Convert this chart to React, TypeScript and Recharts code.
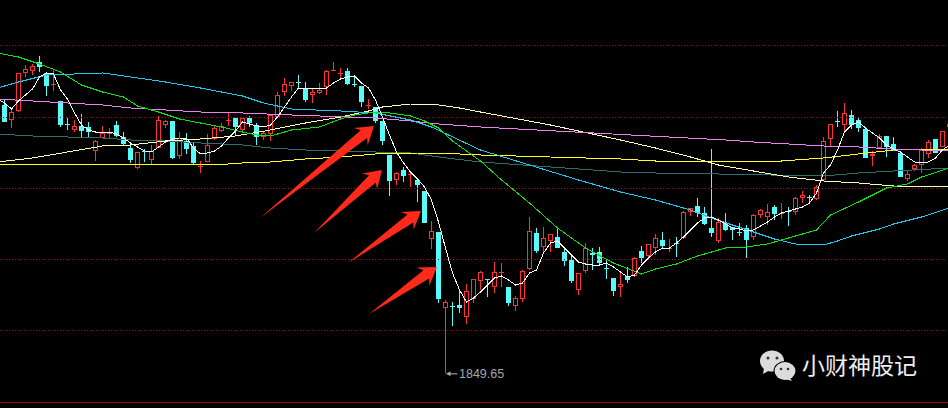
import React from 'react';
import { ComposedChart, Bar, Line, XAxis, YAxis, ReferenceLine, ReferenceDot } from 'recharts';

const opens = [
  2118, 2103, 2112, 2150, 2152, 2161, 2150, 2138, 2122, 2099,
  2093, 2097, 2096, 2072, 2085, 2089, 2098, 2086, 2075, 2055,
  2072, 2063, 2075, 2098, 2102, 2067, 2082, 2077, 2056, 2061,
  2084, 2092, 2102, 2105, 2093, 2105, 2098, 2086, 2089, 2106,
  2131, 2137, 2141, 2135, 2128, 2130, 2136, 2152, 2149, 2152,
  2139, 2137, 2117, 2116, 2102, 2068, 2043, 2053, 2048, 2043,
  2032, 1984, 1991, 1915, 1917, 1918, 1906, 1924, 1942, 1944,
  1936, 1950, 1936, 1917, 1924, 1954, 1990, 1976, 1982, 1986,
  1971, 1963, 1933, 1952, 1970, 1971, 1955, 1945, 1936, 1947,
  1947, 1972, 1967, 1975, 1983, 1974, 1980, 1985, 2011, 2017,
  2010, 1995, 1982, 2000, 1996, 1991, 1995, 1986, 2008, 2006,
  2016, 2009, 2012, 2011, 2025, 2026, 2024, 2043, 2084, 2102,
  2098, 2108, 2103, 2094, 2067, 2075, 2087, 2079, 2070, 2044,
  2054, 2058, 2069, 2084, 2076, 2096,
];
const closes = [
  2101, 2111, 2150, 2154, 2157, 2156, 2137, 2139, 2098, 2098,
  2097, 2092, 2091, 2082, 2090, 2090, 2087, 2079, 2063, 2071,
  2071, 2072, 2103, 2102, 2065, 2085, 2074, 2060, 2057, 2078,
  2095, 2097, 2103, 2096, 2105, 2100, 2086, 2090, 2108, 2128,
  2139, 2141, 2140, 2123, 2131, 2133, 2152, 2153, 2150, 2139,
  2138, 2121, 2118, 2102, 2082, 2042, 2050, 2047, 2049, 2038,
  2000, 1992, 1924, 1921, 1916, 1915, 1932, 1944, 1951, 1943,
  1951, 1951, 1920, 1925, 1952, 1992, 1972, 1985, 1989, 1975,
  1962, 1942, 1950, 1975, 1968, 1960, 1954, 1932, 1939, 1943,
  1965, 1965, 1979, 1985, 1977, 1975, 1979, 2011, 2015, 2010,
  1999, 1990, 2001, 1993, 1993, 1990, 1983, 2008, 2013, 2011,
  2009, 2010, 2011, 2025, 2028, 2025, 2036, 2082, 2099, 2101,
  2110, 2098, 2095, 2065, 2069, 2087, 2076, 2072, 2046, 2049,
  2058, 2073, 2081, 2070, 2092, 2099,
];
const highs = [
  2123, 2115, 2150, 2158, 2159, 2167, 2151, 2153, 2122, 2105,
  2103, 2109, 2101, 2083, 2097, 2095, 2102, 2091, 2078, 2071,
  2074, 2078, 2107, 2103, 2102, 2091, 2090, 2081, 2062, 2089,
  2098, 2100, 2110, 2105, 2105, 2107, 2100, 2091, 2108, 2131,
  2145, 2141, 2148, 2141, 2135, 2140, 2153, 2161, 2155, 2155,
  2146, 2137, 2124, 2116, 2102, 2068, 2051, 2056, 2050, 2043,
  2032, 2002, 1991, 1923, 1921, 1933, 1939, 1944, 1952, 1944,
  1961, 1960, 1936, 1927, 1953, 2006, 1995, 1996, 1989, 1995,
  1975, 1969, 1950, 1980, 1975, 1976, 1963, 1945, 1950, 1956,
  1966, 1977, 1979, 1989, 1991, 1984, 1986, 2012, 2015, 2025,
  2016, 2074, 2005, 2010, 1996, 2000, 1998, 2009, 2014, 2019,
  2018, 2020, 2016, 2026, 2032, 2028, 2038, 2086, 2099, 2112,
  2120, 2113, 2106, 2094, 2072, 2089, 2087, 2086, 2070, 2053,
  2059, 2075, 2083, 2084, 2092, 2099,
];
const lows = [
  2101, 2095, 2111, 2146, 2148, 2151, 2127, 2132, 2096, 2093,
  2091, 2086, 2086, 2062, 2085, 2084, 2086, 2077, 2060, 2054,
  2061, 2059, 2075, 2095, 2064, 2064, 2069, 2058, 2050, 2061,
  2083, 2091, 2097, 2088, 2090, 2096, 2078, 2083, 2082, 2106,
  2127, 2132, 2134, 2121, 2120, 2129, 2128, 2152, 2145, 2138,
  2136, 2116, 2114, 2100, 2078, 2027, 2038, 2041, 2036, 2021,
  2000, 1974, 1920, 1849.65, 1897, 1910, 1899, 1920, 1933, 1926,
  1930, 1936, 1917, 1912, 1921, 1953, 1970, 1971, 1971, 1975,
  1957, 1940, 1928, 1950, 1953, 1958, 1944, 1927, 1926, 1940,
  1946, 1960, 1963, 1968, 1974, 1971, 1966, 1984, 2007, 2006,
  1998, 1986, 1980, 1992, 1983, 1987, 1965, 1983, 2005, 1998,
  2003, 2004, 1997, 2008, 2020, 2019, 2023, 2043, 2076, 2096,
  2091, 2094, 2091, 2065, 2057, 2074, 2066, 2072, 2046, 2042,
  2052, 2050, 2065, 2070, 2076, 2096,
];
const ma5 = [
  2120, 2114, 2122, 2128, 2134, 2146, 2150, 2149, 2133, 2124,
  2110, 2098, 2093, 2091, 2091, 2091, 2089, 2085, 2080, 2076,
  2072, 2071, 2076, 2081, 2084, 2085, 2085, 2075, 2069, 2070,
  2072, 2077, 2085, 2092, 2101, 2099, 2097, 2096, 2098, 2106,
  2116, 2126, 2135, 2135, 2135, 2135, 2135, 2140, 2144, 2146,
  2147, 2140, 2135, 2123, 2106, 2088, 2071, 2060, 2051, 2044,
  2036, 2023, 2001, 1975, 1950, 1933, 1921, 1925, 1931, 1938,
  1945, 1947, 1943, 1938, 1940, 1950, 1953, 1970, 1980, 1982,
  1975, 1968, 1961, 1959, 1958, 1958, 1960, 1956, 1951, 1946,
  1948, 1958, 1965, 1971, 1975, 1975, 1980, 1986, 1993, 2000,
  2005, 2006, 2003, 1999, 1995, 1994, 1992, 1993, 1997, 2001,
  2006, 2010, 2012, 2014, 2016, 2020, 2030, 2050, 2058, 2073,
  2091, 2098, 2101, 2095, 2090, 2085, 2078, 2074, 2071, 2066,
  2061, 2060, 2061, 2065, 2073, 2078,
];

// slower averages, read at the candles where they bend: [candle, value]
const maGreen = [
  [-1, 2170], [2, 2166], [5, 2159], [8, 2151], [11, 2138], [14, 2131], [17, 2126], [19, 2117],
  [22, 2111], [25, 2104], [28, 2100], [31, 2096], [34, 2091], [36, 2088], [38, 2087], [41, 2093],
  [45, 2096], [48, 2104], [50, 2108], [53, 2111], [54, 2111], [58, 2107], [60, 2102], [62, 2095],
  [64, 2082], [68, 2062], [71, 2043], [75, 2020], [79, 1995], [83, 1975], [87, 1960], [91, 1949],
  [93, 1954], [96, 1959], [99, 1967], [103, 1975], [106, 1976], [109, 1979], [112, 1985], [116, 1993],
  [118, 2008], [122, 2021], [126, 2035], [129, 2039], [131, 2046], [135, 2055],
];
const maCyan = [
  [-1, 2135], [2, 2141], [6, 2148], [14, 2150], [18, 2146], [23, 2141], [28, 2135], [34, 2127],
  [37, 2120], [41, 2114], [48, 2112], [53, 2110], [58, 2103], [61, 2096], [68, 2073], [82, 2043],
  [88, 2031], [93, 2023], [98, 2013], [101, 2005], [107, 1991], [110, 1984], [113, 1979], [117, 1978],
  [119, 1982], [121, 1987], [125, 1994], [127, 1999], [131, 2006], [135, 2015],
];
const maPink = [
  [-1, 2124], [4, 2122], [9, 2120], [14, 2118], [18, 2115], [23, 2113], [28, 2111], [34, 2110],
  [41, 2108], [45, 2107], [53, 2105], [58, 2102], [62, 2099], [68, 2096], [103, 2083], [107, 2081],
  [112, 2079], [117, 2077], [122, 2076], [127, 2074], [135, 2072],
];
const maCream = [
  [-1, 2061], [4, 2065], [9, 2071], [14, 2077], [18, 2078], [23, 2082], [28, 2084], [33, 2087],
  [38, 2093], [43, 2100], [48, 2106], [52, 2112], [54, 2116], [58, 2119], [61, 2119], [65, 2115],
  [68, 2111], [78, 2098], [88, 2083], [93, 2075], [98, 2066], [102, 2058], [107, 2052], [112, 2046],
  [117, 2042], [122, 2040], [127, 2037], [135, 2036],
];
const maYellow = [
  [-1, 2059], [8, 2059], [30, 2058], [34, 2060], [38, 2061], [43, 2064], [48, 2066], [53, 2069],
  [59, 2070], [62, 2070], [68, 2068], [78, 2066], [88, 2064], [93, 2062], [102, 2062], [111, 2062],
  [117, 2065], [122, 2069], [127, 2073], [135, 2074],
];
const maTeal = [
  [-1, 2089], [4, 2087], [9, 2086], [14, 2085], [18, 2083], [23, 2082], [28, 2080], [34, 2078],
  [38, 2075], [43, 2073], [48, 2072], [53, 2071], [58, 2070], [62, 2066], [68, 2061], [78, 2056],
  [88, 2051], [93, 2050], [102, 2049], [117, 2047], [122, 2050], [127, 2052], [135, 2055],
];

const gridPrices = [2177.5, 2105.5, 2034.5, 1963.5, 1892.5];
const lowPrice = 1849.65;

const RED = '#ff3232';
const CYAN = '#54fcfc';

const valueAt = (knots: number[][], i: number) => {
  const hit = knots.find((k) => k[0] === i);
  return hit ? hit[1] : null;
};

// slot -1 has no candle, it only lets the averages run off the left edge
const table = Array.from({ length: 137 }, (_, n) => {
  const i = n - 1;
  return {
    i,
    open: i < 0 ? null : opens[i],
    close: i < 0 ? null : closes[i],
    high: i < 0 ? null : highs[i],
    low: i < 0 ? null : lows[i],
    range: i < 0 ? null : [lows[i], highs[i]],
    ma5: i < 0 ? 2124 : ma5[i],
    green: valueAt(maGreen, i),
    cyan: valueAt(maCyan, i),
    pink: valueAt(maPink, i),
    cream: valueAt(maCream, i),
    yellow: valueAt(maYellow, i),
    teal: valueAt(maTeal, i),
  };
});

const Candle = (props: any) => {
  const { x, y, width, height, payload } = props;
  if (!payload || payload.open == null) return null;
  const { open, close, high, low } = payload;
  const perPoint = height / (high - low);
  const toY = (v: number) => y + (high - v) * perPoint;
  const cx = x + width / 2;
  const up = close >= open;
  const top = toY(Math.max(open, close));
  const bottom = toY(Math.min(open, close));
  const bodyH = bottom - top;
  const wickTop = toY(high);
  const wickBottom = toY(low);
  if (!up) {
    return (
      <g>
        <rect x={cx - 0.5} y={wickTop} width={1} height={wickBottom - wickTop} fill={CYAN} />
        <rect x={cx - 2.5} y={top} width={5} height={Math.max(1, bodyH)} fill={CYAN} />
      </g>
    );
  }
  return (
    <g>
      <rect x={cx - 0.5} y={wickTop} width={1} height={Math.max(0, top - wickTop)} fill={RED} />
      <rect x={cx - 0.5} y={bottom} width={1} height={Math.max(0, wickBottom - bottom)} fill={RED} />
      {bodyH <= 1 ? (
        <rect x={cx - 2.5} y={top} width={5} height={1} fill={RED} />
      ) : (
        <rect x={cx - 2} y={top + 0.5} width={4} height={bodyH - 1} fill="#000" stroke={RED} strokeWidth={1} />
      )}
    </g>
  );
};

const LowMark = (props: any) => {
  const { cx, cy } = props;
  return (
    <g>
      <line x1={cx + 1} y1={cy + 0.5} x2={cx + 12} y2={cy + 0.5} stroke="#b0b0b0" />
      <path d={`M${cx + 1} ${cy + 0.5}L${cx + 5} ${cy - 2}L${cx + 5} ${cy + 3}Z`} fill="#b0b0b0" />
      <text x={cx + 13.5} y={cy + 4.5} fontFamily="Liberation Sans" fontSize={12.5} fill="#a0a8b0">
        {lowPrice}
      </text>
    </g>
  );
};

// annotation arrows drawn over the chart: tail and tip
const arrows = [
  [260, 218, 374, 126],
  [314, 233, 382, 170],
  [348, 263, 421, 211],
  [369, 314, 437, 267],
];

const arrowPoints = ([x1, y1, x2, y2]: number[]) => {
  const len = Math.hypot(x2 - x1, y2 - y1);
  const ux = (x2 - x1) / len;
  const uy = (y2 - y1) / len;
  const at = (back: number, side: number) =>
    `${x2 - ux * back - uy * side},${y2 - uy * back + ux * side}`;
  return [`${x1},${y1}`, at(13, -5), at(17, -11), `${x2},${y2}`, at(17, 11), at(13, 5)].join(' ');
};

const Overlay = () => (
  <svg width={948} height={408} style={{ position: 'absolute', left: 0, top: 0 }}>
    {arrows.map((a, n) => (
      <polygon key={n} points={arrowPoints(a)} fill="#ff2a1a" />
    ))}
    <g>
      <ellipse cx={772} cy={361} rx={12} ry={10.5} fill="#dcdcdc" />
      <path d="M764 368L763 374L770 370Z" fill="#dcdcdc" />
      <ellipse cx={785} cy={371} rx={11.5} ry={10} fill="#000" />
      <ellipse cx={785} cy={371} rx={10.5} ry={9} fill="#dcdcdc" />
      <path d="M790 378L792 381L785 379Z" fill="#dcdcdc" />
      <circle cx={768} cy={358} r={1.5} fill="#333" />
      <circle cx={777} cy={358} r={1.5} fill="#333" />
      <circle cx={781} cy={369} r={1.3} fill="#333" />
      <circle cx={788} cy={369} r={1.3} fill="#333" />
    </g>
    <text x={802} y={374} fontFamily="Noto Sans CJK SC" fontSize={23} fill="#eeeeee">
      小财神股记
    </text>
  </svg>
);

const lineProps = { dot: false, isAnimationActive: false, shapeRendering: 'crispEdges' } as const;

export default function App() {
  return (
    <div style={{ position: 'fixed', left: 0, top: 0, width: 948, height: 408, overflow: 'hidden', background: '#000' }}>
      <div style={{ position: 'absolute', left: -7, top: 0 }}>
        <ComposedChart
          width={960}
          height={408}
          data={table}
          barCategoryGap={0}
          margin={{ top: 0, right: 0, bottom: 0, left: 1 }}
        >
          <XAxis dataKey="i" hide />
          <YAxis hide domain={[1815, 2223]} allowDataOverflow />
          {gridPrices.map((p) => (
            <ReferenceLine key={p} y={p} stroke="#b00000" strokeDasharray="1 2" shapeRendering="crispEdges" />
          ))}
          <ReferenceLine y={1820.5} stroke="#a00000" shapeRendering="crispEdges" />
          <Bar dataKey="range" shape={<Candle />} isAnimationActive={false} />
          <Line dataKey="teal" stroke="#2f6e70" connectNulls {...lineProps} />
          <Line dataKey="yellow" stroke="#ffff20" connectNulls {...lineProps} />
          <Line dataKey="cream" stroke="#ffffb0" connectNulls {...lineProps} />
          <Line dataKey="pink" stroke="#f080f0" connectNulls {...lineProps} />
          <Line dataKey="cyan" stroke="#20c8f0" connectNulls {...lineProps} />
          <Line dataKey="green" stroke="#10e010" connectNulls {...lineProps} />
          <Line dataKey="ma5" stroke="#ffffff" {...lineProps} />
          <ReferenceDot x={63} y={lowPrice} shape={<LowMark />} />
        </ComposedChart>
      </div>
      <Overlay />
    </div>
  );
}
